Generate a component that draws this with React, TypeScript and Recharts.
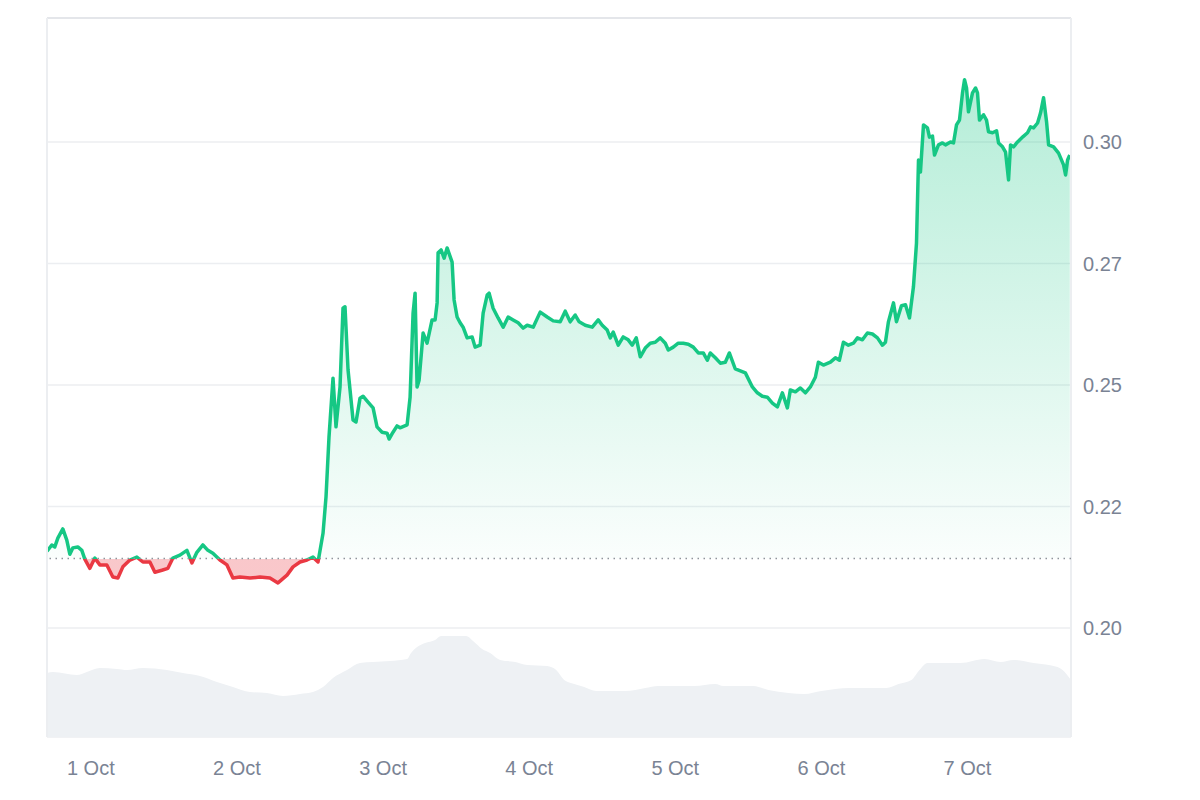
import React from 'react';
import { ComposedChart, Area, XAxis, YAxis, CartesianGrid, ReferenceLine } from 'recharts';

// Hours since 1 Oct 00:00
const priceHours = [
  -7.2, -6.41, -5.92, -5.42, -4.6, -3.95, -3.45, -2.96, -2.14, -1.48,
  -0.99, -0.16, 0.66, 1.48, 2.63, 3.62, 4.44, 5.26, 6.41, 7.56,
  8.55, 9.7, 10.52, 11.67, 12.66, 13.48, 14.63, 15.78, 16.6, 17.42,
  18.41, 19.23, 20.05, 21.21, 22.36, 23.34, 24.49, 26.14, 27.78, 29.42,
  30.74, 32.22, 33.21, 34.36, 35.51, 36.49, 37.32, 38.14, 38.63, 39.12,
  39.78, 40.27, 40.93, 41.42, 41.75, 42.25, 43.07, 43.56, 44.22, 44.71,
  45.53, 46.36, 47.01, 47.84, 48.66, 48.99, 49.64, 50.3, 50.79, 51.95,
  52.44, 52.93, 53.26, 53.59, 53.92, 54.58, 55.23, 56.05, 56.55, 56.88,
  57.04, 57.53, 58.03, 58.52, 59.34, 59.67, 60.16, 60.66, 61.15, 61.81,
  62.63, 63.12, 63.95, 64.44, 65.1, 65.42, 66.08, 66.9, 67.73, 68.55,
  69.37, 70.19, 71.01, 71.67, 72.66, 73.81, 74.96, 75.95, 77.1, 77.92,
  78.74, 79.56, 80.22, 81.21, 82.36, 83.34, 84.0, 84.82, 85.32, 85.81,
  86.63, 87.45, 88.27, 88.93, 89.59, 90.25, 91.07, 91.89, 92.71, 93.53,
  94.36, 94.85, 95.67, 96.49, 97.32, 98.14, 98.96, 99.78, 100.6, 101.26,
  101.75, 102.58, 103.4, 104.22, 104.88, 105.86, 107.51, 108.66, 109.48, 110.3,
  111.12, 111.95, 112.77, 113.59, 114.41, 114.9, 115.73, 116.55, 117.37, 118.19,
  119.01, 119.51, 120.33, 121.48, 122.3, 122.96, 123.62, 124.44, 125.26, 125.92,
  126.74, 127.56, 128.38, 129.21, 130.03, 130.52, 131.01, 131.84, 132.33, 133.15,
  133.81, 134.47, 135.12, 135.62, 135.95, 136.27, 136.77, 137.42, 137.75, 138.25,
  138.58, 139.23, 139.89, 140.38, 141.21, 141.7, 142.19, 142.68, 143.18, 143.51,
  143.84, 144.16, 144.82, 145.32, 145.64, 145.97, 146.63, 147.12, 147.45, 148.11,
  148.77, 149.1, 149.75, 150.25, 150.74, 151.07, 151.56, 152.22, 153.04, 153.86,
  154.36, 154.85, 155.51, 156.0, 156.49, 156.99, 157.32, 158.14, 158.96, 159.78,
  160.11, 160.44, 160.8,
];

const prices = [
  0.2158, 0.2171, 0.2167, 0.2185, 0.2204, 0.2181, 0.2152, 0.2165, 0.2167, 0.216,
  0.2142, 0.2123, 0.2144, 0.213, 0.213, 0.2105, 0.2103, 0.2126, 0.214, 0.2146,
  0.2136, 0.2136, 0.2115, 0.2119, 0.2123, 0.2144, 0.215, 0.216, 0.2134, 0.2156,
  0.2171, 0.216, 0.2154, 0.214, 0.213, 0.2103, 0.2105, 0.2103, 0.2105, 0.2103,
  0.2093, 0.2109, 0.2126, 0.2136, 0.214, 0.2146, 0.2136, 0.2195, 0.227, 0.2393,
  0.2514, 0.2414, 0.2496, 0.2658, 0.2661, 0.2531, 0.2428, 0.2424, 0.2473, 0.2477,
  0.2465, 0.2453, 0.2414, 0.2403, 0.2401, 0.2389, 0.2403, 0.2416, 0.2412, 0.2418,
  0.2475, 0.2648, 0.2689, 0.2496, 0.251, 0.2607, 0.2586, 0.2634, 0.2634, 0.2669,
  0.2772, 0.2778, 0.2761, 0.2782, 0.2753, 0.2675, 0.264, 0.2628, 0.2619, 0.2597,
  0.2599, 0.2578, 0.2582, 0.2648, 0.2685, 0.2689, 0.2658, 0.2638, 0.2619, 0.264,
  0.2634, 0.2628, 0.2617, 0.2623, 0.2619, 0.265, 0.264, 0.2632, 0.263, 0.2652,
  0.263, 0.2644, 0.263, 0.2623, 0.2619, 0.2634, 0.2623, 0.2613, 0.2597, 0.2609,
  0.2582, 0.2599, 0.2593, 0.2582, 0.2597, 0.2558, 0.2576, 0.2586, 0.2588, 0.2597,
  0.2586, 0.2572, 0.2578, 0.2586, 0.2586, 0.2584, 0.2578, 0.2566, 0.2566, 0.2551,
  0.2566, 0.2556, 0.2545, 0.2547, 0.2566, 0.2533, 0.2525, 0.2496, 0.2484, 0.2477,
  0.2475, 0.2463, 0.2455, 0.2484, 0.2453, 0.249, 0.2486, 0.2494, 0.2484, 0.2496,
  0.2516, 0.2547, 0.2541, 0.2547, 0.2556, 0.2551, 0.2588, 0.2582, 0.2586, 0.2597,
  0.2593, 0.2607, 0.2605, 0.2597, 0.2582, 0.2588, 0.263, 0.2669, 0.263, 0.2663,
  0.2665, 0.2638, 0.2702, 0.2792, 0.2963, 0.2938, 0.3035, 0.3029, 0.301, 0.3012,
  0.2973, 0.2994, 0.2998, 0.2994, 0.3, 0.2998, 0.3035, 0.3045, 0.3101, 0.3128,
  0.3111, 0.3062, 0.3101, 0.3111, 0.3101, 0.3045, 0.3056, 0.3045, 0.3021, 0.3019,
  0.3023, 0.2998, 0.299, 0.2979, 0.2922, 0.2994, 0.299, 0.3, 0.301, 0.3019,
  0.3031, 0.3029, 0.3039, 0.306, 0.3091, 0.3041, 0.2994, 0.299, 0.2977, 0.2953,
  0.2932, 0.2963, 0.2973,
];

const volumeHours = [
  -7.2, -6.2, -2.3, -0.66, 1.48, 4.27, 5.92, 8.55, 12.49, 15.12,
  17.92, 20.71, 23.34, 26.14, 28.93, 31.56, 34.36, 36.49, 38.14, 39.78,
  42.08, 44.22, 46.36, 49.15, 51.95, 52.6, 53.59, 54.9, 56.55, 57.53,
  61.64, 62.96, 64.27, 65.59, 67.23, 69.7, 71.67, 74.96, 76.44, 77.75,
  79.4, 81.04, 83.01, 87.78, 91.07, 93.21, 99.12, 102.58, 103.89, 108.82,
  111.29, 114.58, 117.21, 120.0, 124.6, 130.68, 132.66, 134.79, 136.11, 137.42,
  142.85, 146.79, 149.42, 151.56, 154.85, 158.79, 159.62, 161.0,
];

const volumes = [
  6.4, 6.5, 6.2, 6.5, 6.9, 6.8, 6.7, 6.9, 6.7, 6.4,
  6.1, 5.5, 5.0, 4.5, 4.4, 4.1, 4.3, 4.5, 5.0, 5.9,
  6.7, 7.4, 7.5, 7.6, 7.8, 8.4, 9.0, 9.4, 9.7, 10.1,
  10.1, 9.5, 8.8, 8.4, 7.7, 7.5, 7.2, 7.1, 6.7, 5.7,
  5.3, 5.0, 4.6, 4.6, 4.9, 5.1, 5.1, 5.3, 5.1, 5.1,
  4.7, 4.4, 4.3, 4.6, 4.9, 4.9, 5.3, 5.7, 6.7, 7.4,
  7.4, 7.8, 7.5, 7.7, 7.4, 7.0, 6.7, 5.7,
];

const dayTicks = [0, 24, 48, 72, 96, 120, 144];
const dayLabels = ['1 Oct', '2 Oct', '3 Oct', '4 Oct', '5 Oct', '6 Oct', '7 Oct'];
const priceTicks = [0.2, 0.225, 0.25, 0.275, 0.3];
const priceTickLabels = ['0.20', '0.22', '0.25', '0.27', '0.30'];

const BASELINE = 0.2143;
const PRICE_DOMAIN: [number, number] = [0.1776, 0.3255];
const VOLUME_DOMAIN: [number, number] = [0, 71.9];
const HOUR_DOMAIN: [number, number] = [-7.2, 161];

const GREEN = '#16c784';
const RED = '#ea3943';
const AXIS_TEXT = '#7a8394';

const priceData = priceHours.map((h, i) => ({ h, price: prices[i] }));
const volumeData = volumeHours.map((h, i) => ({ h, volume: volumes[i] }));

const maxP = Math.max(...prices);
const minP = Math.min(...prices);
const splitOffset = (maxP - BASELINE) / (maxP - minP);

export default function App() {
  const tickStyle = { fill: AXIS_TEXT, fontSize: 20, fontFamily: '"Liberation Sans", Arial, sans-serif' };
  return (
    <div style={{ position: 'absolute', left: 0, top: 0, width: 1200, height: 800, background: '#fff' }}>
      <ComposedChart width={1200} height={800} margin={{ top: 18, right: 0, bottom: 0, left: 47 }}>
        <defs>
          <linearGradient id="priceStroke" x1="0" y1="0" x2="0" y2="1">
            <stop offset={0} stopColor={GREEN} />
            <stop offset={splitOffset} stopColor={GREEN} />
            <stop offset={splitOffset} stopColor={RED} />
            <stop offset={1} stopColor={RED} />
          </linearGradient>
          <linearGradient id="priceFill" x1="0" y1="0" x2="0" y2="1">
            <stop offset={0} stopColor={GREEN} stopOpacity={0.32} />
            <stop offset={splitOffset} stopColor={GREEN} stopOpacity={0.02} />
            <stop offset={splitOffset} stopColor={RED} stopOpacity={0.28} />
            <stop offset={1} stopColor={RED} stopOpacity={0.28} />
          </linearGradient>
        </defs>
        <CartesianGrid yAxisId="price" vertical={false} stroke="#eceef1" strokeWidth={1.5} />
        <XAxis
          dataKey="h"
          type="number"
          domain={HOUR_DOMAIN}
          allowDataOverflow
          ticks={dayTicks}
          tickFormatter={(v: number) => dayLabels[dayTicks.indexOf(v)] ?? ''}
          axisLine={false}
          tickLine={false}
          tickSize={0}
          tickMargin={24}
          height={63}
          tick={tickStyle}
        />
        <YAxis
          yAxisId="price"
          orientation="right"
          type="number"
          domain={PRICE_DOMAIN}
          allowDataOverflow
          ticks={priceTicks}
          tickFormatter={(v: number) => priceTickLabels[priceTicks.indexOf(v)] ?? ''}
          axisLine={false}
          tickLine={false}
          tickSize={0}
          tickMargin={12}
          width={129}
          tick={tickStyle}
        />
        <YAxis yAxisId="vol" hide type="number" domain={VOLUME_DOMAIN} allowDataOverflow />
        <Area
          yAxisId="vol"
          data={volumeData}
          dataKey="volume"
          type="monotone"
          stroke="none"
          fill="#eef1f4"
          fillOpacity={1}
          isAnimationActive={false}
          dot={false}
          activeDot={false}
        />
        <ReferenceLine yAxisId="price" y={PRICE_DOMAIN[1]} stroke="#e4e6ea" strokeWidth={2} />
        <ReferenceLine yAxisId="price" x={HOUR_DOMAIN[0]} stroke="#eceef1" strokeWidth={2} />
        <ReferenceLine yAxisId="price" x={HOUR_DOMAIN[1]} stroke="#eceef1" strokeWidth={2} />
        <Area
          yAxisId="price"
          data={priceData}
          dataKey="price"
          type="linear"
          baseValue={BASELINE}
          stroke="url(#priceStroke)"
          strokeWidth={3.5}
          strokeLinejoin="round"
          fill="url(#priceFill)"
          fillOpacity={1}
          isAnimationActive={false}
          dot={false}
          activeDot={false}
        />
        <ReferenceLine yAxisId="price" y={BASELINE} stroke="#8f949b" strokeWidth={1.5} strokeDasharray="1.5 4.5" />
      </ComposedChart>
    </div>
  );
}
